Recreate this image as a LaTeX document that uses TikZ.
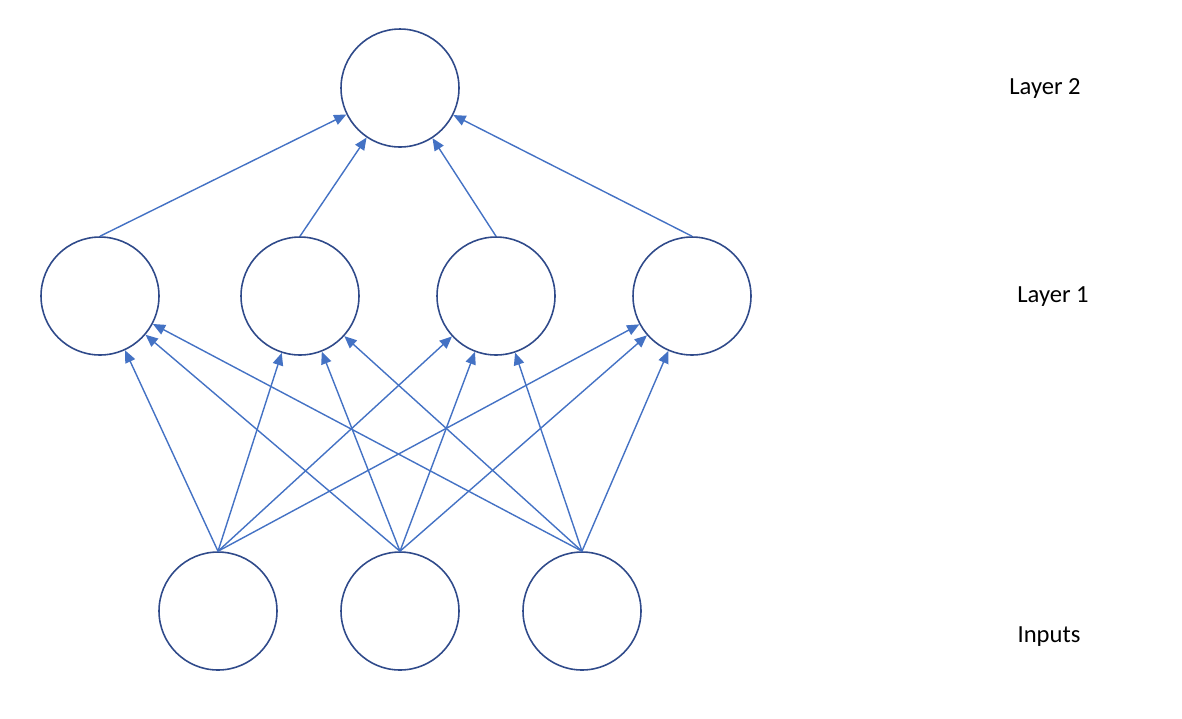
\documentclass[tikz,border=0pt]{standalone}
\usepackage{fontspec}
\setmainfont{Carlito}
\usetikzlibrary{arrows.meta}
\definecolor{circ}{HTML}{2F4A8A}
\definecolor{edge}{HTML}{4472C4}
\begin{document}
\begin{tikzpicture}[x=0.02cm,y=-0.02cm,
  neuron/.style={circle,draw=circ,line width=0.9pt,minimum size=2.36cm,inner sep=0pt},
  conn/.style={draw=edge,line width=0.8pt,-{Triangle[length=7pt,width=6pt]}},
  lbl/.style={font=\fontsize{14}{16}\selectfont}]
\useasboundingbox (0,0) rectangle (1182,718);
\node[neuron] (t) at (400,88) {};
\node[neuron] (a) at (100,296) {};
\node[neuron] (b) at (300,296) {};
\node[neuron] (c) at (496,296) {};
\node[neuron] (d) at (692,296) {};
\node[neuron] (i) at (218,611) {};
\node[neuron] (j) at (400,611) {};
\node[neuron] (k) at (582,611) {};
\foreach \s in {i,j,k}
  \foreach \e in {a,b,c,d}
    \draw[conn] (\s.north) -- (\e);
\foreach \s in {a,b,c,d}
  \draw[conn] (\s.north) -- (t);
\node[lbl] (l2) at (1045,88) {Layer 2};
\node[lbl] (l1) at (1053,297) {Layer 1};
\node[lbl] (l0) at (1049,637) {Inputs};
\end{tikzpicture}
\end{document}
